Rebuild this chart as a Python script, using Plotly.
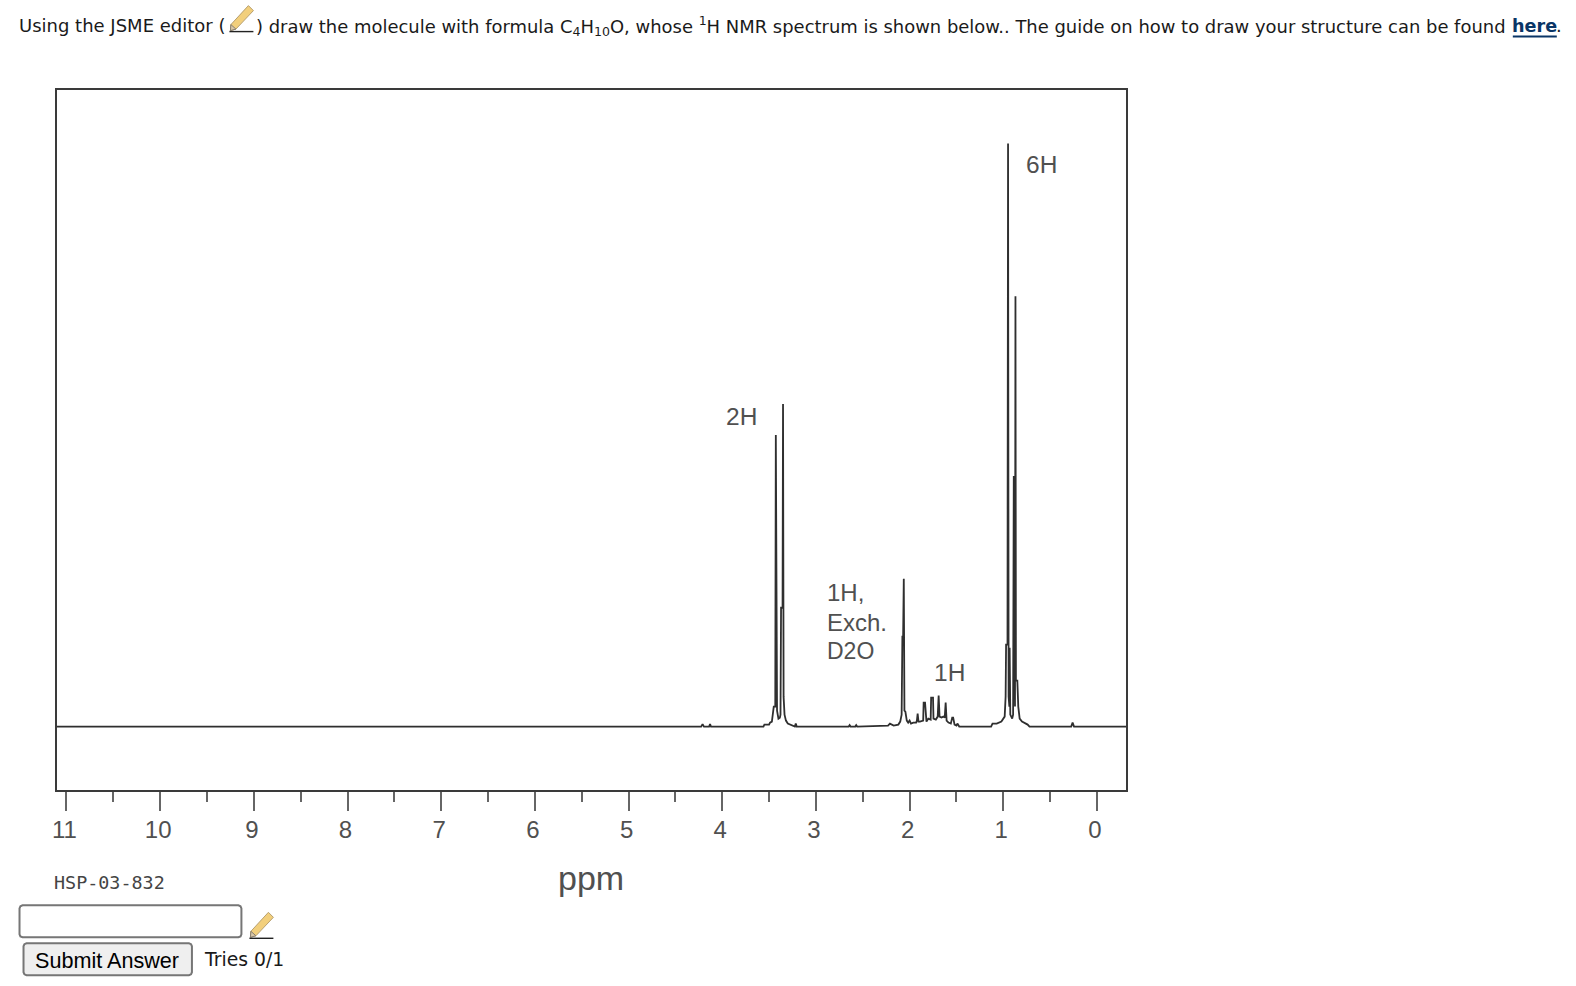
import plotly.graph_objects as go

# ---------- data ----------
ppm = [11.11, 4.225, 4.21, 4.195, 4.14, 4.13, 4.12, 3.56, 3.55, 3.50, 3.49, 3.47, 3.45, 3.44, 3.434,
       3.428, 3.422, 3.415, 3.40, 3.385, 3.378, 3.372, 3.362, 3.356, 3.351, 3.345, 3.335, 3.32, 3.30, 3.27, 3.225, 3.215, 3.205,
       2.65, 2.64, 2.63, 2.58, 2.57, 2.56, 2.23, 2.21, 2.17, 2.12, 2.10, 2.085, 2.077, 2.069, 2.062, 2.055, 2.045, 2.03, 2.015, 2.00, 1.985, 1.96,
       1.93, 1.922, 1.914, 1.905, 1.89, 1.855, 1.85, 1.835, 1.82, 1.80, 1.775, 1.77, 1.75, 1.745, 1.72, 1.70, 1.69, 1.68, 1.66, 1.64, 1.625, 1.615, 1.605, 1.585,
       1.56, 1.545, 1.535, 1.52, 1.50, 1.49, 1.47,
       1.13, 1.115, 1.07, 1.02, 0.985, 0.975, 0.97, 0.955, 0.949, 0.943, 0.935, 0.932, 0.925, 0.905, 0.895, 0.888, 0.88, 0.875, 0.87, 0.865, 0.85, 0.84, 0.825, 0.80, 0.76, 0.74, 0.72,
       0.275, 0.26, 0.245, -0.32]
intensity = [0, 0, 2.5, 0, 0, 2.5, 0, 0, 2, 2, 4, 5, 20, 20, 20,
             292, 20, 16, 8, 9, 12, 119, 119, 119, 323, 30, 12, 6, 3, 2, 0, 3, 0,
             0, 1.5, 0, 0, 1.5, 0, 1, 3, 1, 2, 5, 12, 90, 90, 148, 16, 15, 6, 4, 6, 3, 4,
             4, 6, 13, 5, 5, 6, 24, 24, 5, 8, 7, 29, 29, 8, 7, 10, 31, 10, 9, 10, 9, 24, 6, 4,
             3, 9, 9, 2, 1, 3, 0,
             0, 3, 3, 5, 10, 30, 82, 82, 584, 30, 20, 79, 12, 8, 12, 250, 250, 20, 431, 46, 46, 20, 8, 5, 3, 2, 0,
             0, 4, 0, 0]
tick_values = [11, 10, 9, 8, 7, 6, 5, 4, 3, 2, 1, 0]
minor_tick_values = [10.5, 9.5, 8.5, 7.5, 6.5, 5.5, 4.5, 3.5, 2.5, 1.5, 0.5]
tick_labels = ["11", "10", "9", "8", "7", "6", "5", "4", "3", "2", "1", "0"]

W, H = 1576, 986
L, R, T, B = 56.5, 1126, 89.5, 790.5
INK = "#3a3a3a"
LABEL = "#505050"
DARK = "#1a1a1a"
LINK = "#0a3566"
SANS = "DejaVu Sans"

def px(x):
    return (x - L) / (R - L)

def py(y):
    return (B - y) / (B - T)

def text(x, y, s, size, color=LABEL, family="Liberation Sans", anchor="left"):
    return dict(xref="paper", yref="paper", x=px(x - 2.5 if anchor == "left" else x), y=py(y), text=s, showarrow=False,
                xanchor=anchor, yanchor="middle", align="left",
                font=dict(family=family, size=size, color=color))

def path(points, close=False):
    d = " ".join(("M" if i == 0 else "L") + f" {px(a):.6f} {py(b):.6f}" for i, (a, b) in enumerate(points))
    return d + (" Z" if close else "")

def shape(points, fill=None, line="#000000", width=1, close=True):
    return dict(type="path", xref="paper", yref="paper", path=path(points, close),
                fillcolor=fill if fill else "rgba(0,0,0,0)", line=dict(color=line, width=width))

def rounded(x0, y0, x1, y1, fill, line, width, r=3):
    pts = [(x0 + r, y0), (x1 - r, y0), (x1 - r * .3, y0 + r * .3), (x1, y0 + r), (x1, y1 - r), (x1 - r * .3, y1 - r * .3),
           (x1 - r, y1), (x0 + r, y1), (x0 + r * .3, y1 - r * .3), (x0, y1 - r), (x0, y0 + r), (x0 + r * .3, y0 + r * .3)]
    return shape(pts, fill, line, width)

def pencil(x0, y_base):
    s = []
    s.append(shape([(x0 + 1, y_base - 1), (x0 + 1.5, y_base - 7), (x0 + 19, y_base - 26), (x0 + 24, y_base - 21), (x0 + 6.5, y_base - 2.5)],
                   "#f2cf7c", "#b8a070", 1))
    s.append(shape([(x0 + 1, y_base - 1), (x0 + 1.5, y_base - 7), (x0 + 6.5, y_base - 2.5)], "#d9c7a8", "#8a8070", 1))
    s.append(shape([(x0, y_base), (x0 + 24, y_base)], None, "#222222", 1.4, close=False))
    return s

fig = go.Figure(go.Scatter(x=ppm, y=intensity, mode="lines", line=dict(color="#2f2f2f", width=1.8),
                           hoverinfo="skip", showlegend=False))

annotations = [
    text(19, 25, "Using the JSME editor (", 18, DARK, SANS),
    text(256, 25, ") draw the molecule with formula C<sub>4</sub>H<sub>10</sub>O, whose <sup>1</sup>H NMR spectrum is shown below.. The guide on how to draw your structure can be found",
         17.95, DARK, SANS),
    text(1512.5, 25, "<b>here</b>", 17.6, LINK, SANS),
    text(1557, 25, ".", 18, DARK, SANS),
    text(726, 416.5, "2H", 24.5),
    text(1026, 164.5, "6H", 24.5),
    text(827, 593, "1H,", 24),
    text(827, 623, "Exch.", 24),
    text(827, 651, "D2O", 23),
    text(934, 672.5, "1H", 24.5),
    text(53.5, 883, "HSP-03-832", 18.4, "#444444", "DejaVu Sans Mono"),
    text(591, 879, "ppm", 34, LABEL, anchor="center"),
    text(106.5, 961, "Submit Answer", 21.6, "#000000", anchor="center"),
    text(204, 960.5, "Tries 0/1", 18.8, DARK, SANS),
]

shapes = pencil(229, 31) + pencil(249, 939) + [
    shape([(1513, 36), (1557, 36)], None, LINK, 2, close=False),
    rounded(19, 906, 241, 938, "#ffffff", "#767676", 2),
    rounded(23, 944, 191.5, 976, "#efefef", "#767676", 2),
]

fig.update_layout(
    width=W, height=H, autosize=False,
    margin=dict(l=L, r=W - R, t=T, b=H - B, pad=0),
    paper_bgcolor="#ffffff", plot_bgcolor="#ffffff",
    hovermode=False, showlegend=False,
    annotations=annotations, shapes=shapes,
    xaxis=dict(range=[11.101, -0.31], showgrid=False, zeroline=False, showline=True, mirror=True,
               linecolor=INK, linewidth=2, ticks="outside", ticklen=19, tickwidth=2, tickcolor="#666666",
               tickvals=tick_values, ticktext=tick_labels, ticklabelshift=2, ticklabelstandoff=-2,
               tickfont=dict(family="Liberation Sans", size=24, color=LABEL),
               minor=dict(tickvals=minor_tick_values, ticks="outside", ticklen=10, tickwidth=2, tickcolor="#666666", showgrid=False)),
    yaxis=dict(range=[-63.5, 637.5], showgrid=False, zeroline=False, showline=True, mirror=True,
               linecolor=INK, linewidth=2, ticks="", showticklabels=False),
)

fig.write_html("out.html", config=dict(displayModeBar=False),
               post_script="document.body.style.margin='0';document.body.style.overflow='hidden';")
